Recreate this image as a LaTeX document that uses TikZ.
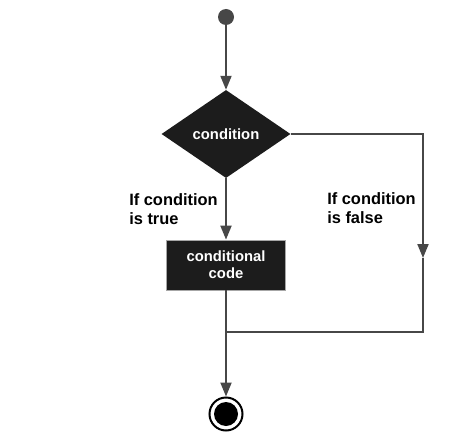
\documentclass[tikz,border=0pt]{standalone}
\usepackage{fontspec}
\setmainfont{Liberation Sans}
\usetikzlibrary{shapes.geometric, arrows.meta}
\definecolor{linegray}{HTML}{474747}
\definecolor{boxfill}{HTML}{1C1C1C}
\tikzstyle{startdot} = [circle, fill=linegray, minimum size=16pt, inner sep=0pt]
\tikzstyle{decision} = [diamond, aspect=1.47, minimum width=129pt, minimum height=88pt, inner sep=0pt, text centered, fill=boxfill, text=white, font=\bfseries\fontsize{14.8}{17}\selectfont]
\tikzstyle{process} = [rectangle, minimum width=119pt, minimum height=50pt, align=center, draw=gray!70, line width=0.8pt, fill=boxfill, text=white, font=\bfseries\fontsize{14.8}{17}\selectfont]
\tikzstyle{stopdot} = [circle, draw=black, line width=2pt, fill=white, minimum size=33pt, inner sep=0pt, path picture={\fill[black] (path picture bounding box.center) circle (12pt);}]
\tikzstyle{label} = [align=left, font=\bfseries\fontsize{16.4}{19}\selectfont]
\tikzstyle{line} = [line width=2pt, draw=linegray]
\tikzstyle{arrow} = [line, -{Triangle[length=14pt,width=11pt]}]

\begin{document}
\begin{tikzpicture}[x=1pt, y=-1pt, node distance=131pt]
\useasboundingbox (0,0) rectangle (460,441);

\node (start) [startdot] at (226,17) {};

\node (cond) [decision, below of=start, yshift=14pt] {condition};

\node (code) [process, below of=cond] {conditional\\code};

\node (stop) [stopdot, below of=code, yshift=-18pt] {};

\coordinate (falsetip) at (423,258);
\coordinate (merge) at (226,332);

\draw [arrow] (start) -- (cond);
\draw [arrow] (cond) -- node[label, left=4pt] {If condition\\is true} (code);
\draw [arrow] (cond.east) -| node[label, pos=0.8, left=3pt] {If condition\\is false} (falsetip);
\draw [line] (falsetip) |- (merge);
\draw [arrow] (code) -- (stop);

\end{tikzpicture}
\end{document}
